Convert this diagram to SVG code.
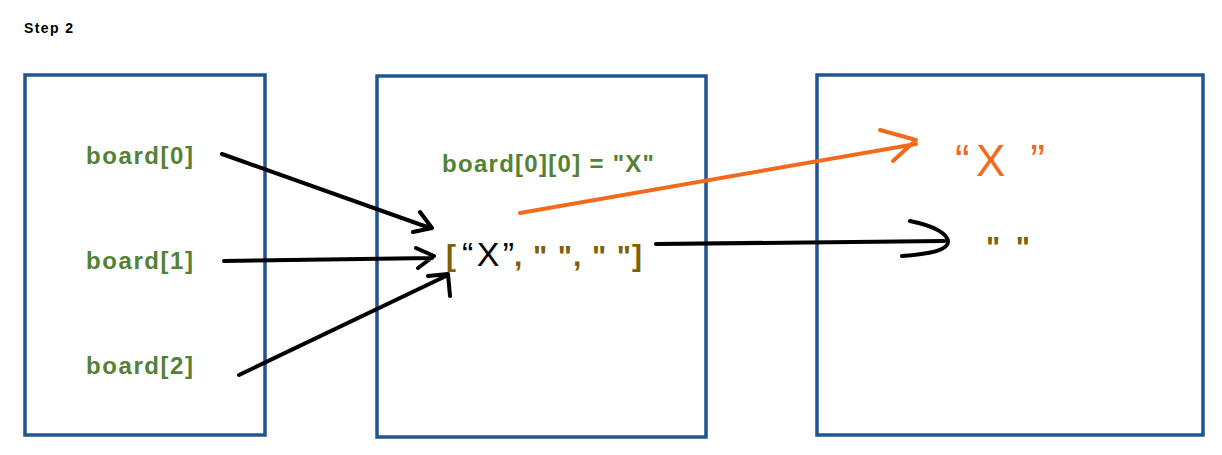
<svg xmlns="http://www.w3.org/2000/svg" width="1222" height="455" viewBox="0 0 1222 455">
<style>
.box{fill:#fff;stroke:#1f5591;stroke-width:3.5}
.g{font-family:"Liberation Sans",Arial,sans-serif;font-weight:bold;font-size:24px;fill:#548235}
.br{font-family:"Liberation Sans",Arial,sans-serif;font-weight:bold;font-size:30px;fill:#7f6000}
.k{fill:none;stroke:#000;stroke-width:4;stroke-linecap:round;stroke-linejoin:round}
.o{fill:none;stroke:#f26a1b;stroke-width:4;stroke-linecap:round;stroke-linejoin:round}
</style>
<rect width="1222" height="455" fill="#fff"/>
<text x="24" y="33" font-family="Liberation Sans,Arial,sans-serif" font-weight="bold" font-size="14" textLength="49">Step 2</text>
<g id="box1"><rect class="box" x="25" y="75" width="240" height="360"/>
<text class="g" x="86" y="164" textLength="107">board[0]</text>
<text class="g" x="86" y="269" textLength="107">board[1]</text>
<text class="g" x="86" y="374" textLength="107">board[2]</text></g>
<g id="box2"><rect class="box" x="377" y="76" width="329" height="361"/>
<text class="g" x="442" y="172" textLength="212">board[0][0] = "X"</text>
<text class="br" x="446" y="266">[</text>
<text x="462" y="266" font-family="Liberation Sans,Arial,sans-serif" font-size="34" fill="#000" textLength="52">“X”</text>
<text class="br" x="514" y="266" textLength="128">, " ", " "]</text></g>
<g id="box3"><rect class="box" x="817" y="75" width="386" height="360"/>
<text x="955" y="176" font-family="Liberation Sans,Arial,sans-serif" font-size="44" fill="#f26a1b" textLength="90">“X ”</text>
<text class="br" x="986" y="257" textLength="44">" "</text></g>
<g id="connectors">
<path class="k" d="M222 154 L430 228 M420 212 L432 228 L413 232"/>
<path class="k" d="M224 261 L432 258 M416 248 L434 256 L418 268"/>
<path class="k" d="M239 375 L446 276 M428 276 L448 274 L450 296"/>
<path class="k" d="M656 244 L944 241 M910 221 C935 226 948 234 948 242 C948 250 930 254 902 256"/>
<path class="o" d="M520 213 L916 144 M880 130 L916 140 L893 161"/>
</g>
</svg>
